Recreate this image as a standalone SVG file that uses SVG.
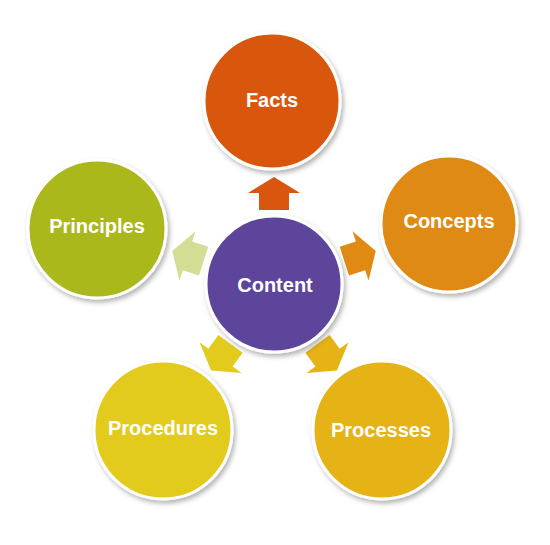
<svg xmlns="http://www.w3.org/2000/svg" width="550" height="545" viewBox="0 0 550 545">
<defs>
<filter id="sh" x="-20%" y="-20%" width="140%" height="140%">
<feDropShadow dx="2" dy="3" stdDeviation="2.5" flood-color="#000" flood-opacity="0.3"/>
</filter>
<path id="arr" d="M-15,-74 L-15,-91 L-26,-91 L0,-107 L26,-91 L15,-91 L15,-74 Z"/>
</defs>
<style>
.node{stroke:#fff;stroke-width:3;filter:url(#sh)}
.lbl{font-family:"Liberation Sans",Arial,sans-serif;font-weight:bold;font-size:20px;fill:#fff;text-anchor:middle}
</style>
<rect width="550" height="545" fill="#fff"/>
<g id="connectors">
<use href="#arr" transform="translate(274,284)" fill="#D9560F"/>
<use href="#arr" transform="translate(274,284) rotate(72)" fill="#E08A13"/>
<use href="#arr" transform="translate(274,284) rotate(144)" fill="#E5B315"/>
<use href="#arr" transform="translate(274,284) rotate(216)" fill="#E2CB1D"/>
<use href="#arr" transform="translate(274,284) rotate(-72)" fill="#D4DD94"/>
</g>
<g id="content"><circle class="node" cx="274" cy="284" r="68" fill="#5B459A"/><text class="lbl" x="275" y="292">Content</text></g>
<g id="facts"><circle class="node" cx="272" cy="101" r="68" fill="#D9560F"/><text class="lbl" x="272" y="107">Facts</text></g>
<g id="concepts"><circle class="node" cx="449" cy="224" r="68" fill="#E08A13"/><text class="lbl" x="449" y="228">Concepts</text></g>
<g id="processes"><circle class="node" cx="382" cy="430" r="69" fill="#E5B315"/><text class="lbl" x="381" y="437">Processes</text></g>
<g id="procedures"><circle class="node" cx="163" cy="430" r="69" fill="#E2CB1D"/><text class="lbl" x="163" y="435">Procedures</text></g>
<g id="principles"><circle class="node" cx="97" cy="229" r="69" fill="#ABB81E"/><text class="lbl" x="97" y="233">Principles</text></g>
</svg>
